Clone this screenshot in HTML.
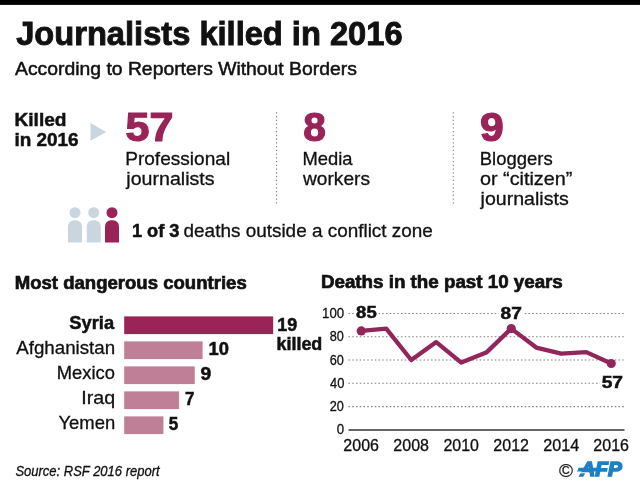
<!DOCTYPE html>
<html lang="en"><head><meta charset="utf-8"><title>Journalists killed in 2016</title>
<style>html,body{margin:0;padding:0;background:#fff}svg{display:block;will-change:transform}</style></head>
<body>
<svg width="640" height="492" viewBox="0 0 640 492" font-family='"Liberation Sans", sans-serif'>
<rect x="0" y="0" width="640" height="492" fill="#fff"/>
<rect x="0" y="0" width="640" height="4.9" fill="#000"/>
<polygon points="90.5,123 106.2,131.9 90.5,140.8" fill="#c9d6df"/>
<line x1="276.5" y1="112.3" x2="276.5" y2="205.5" stroke="#808080" stroke-width="1.1" stroke-dasharray="1.3 2.45"/>
<line x1="453.3" y1="112.3" x2="453.3" y2="205.5" stroke="#808080" stroke-width="1.1" stroke-dasharray="1.3 2.45"/>
<circle cx="75" cy="212.7" r="5.5" fill="#c9d6df"/><path d="M68,242.4 V226.2 a6,6 0 0 1 6,-6 h2 a6,6 0 0 1 6,6 V242.4 Z" fill="#c9d6df"/>
<circle cx="93.75" cy="212.7" r="5.5" fill="#c9d6df"/><path d="M86.75,242.4 V226.2 a6,6 0 0 1 6,-6 h2 a6,6 0 0 1 6,6 V242.4 Z" fill="#c9d6df"/>
<circle cx="112" cy="212.7" r="5.5" fill="#9a2358"/><path d="M105,242.4 V226.2 a6,6 0 0 1 6,-6 h2 a6,6 0 0 1 6,6 V242.4 Z" fill="#9a2358"/>
<rect x="124.2" y="316.4" width="148.96" height="17.7" fill="#9a2358"/>
<rect x="124.2" y="341.4" width="78.40" height="17.7" fill="#bf7f96"/>
<rect x="124.2" y="366.4" width="70.56" height="17.7" fill="#bf7f96"/>
<rect x="124.2" y="391.4" width="54.88" height="17.7" fill="#bf7f96"/>
<rect x="124.2" y="416.4" width="39.20" height="17.7" fill="#bf7f96"/>
<line x1="348.5" y1="406.61" x2="624.5" y2="406.61" stroke="#808080" stroke-width="1.1" stroke-dasharray="1.5 2.25"/>
<line x1="348.5" y1="383.32" x2="624.5" y2="383.32" stroke="#808080" stroke-width="1.1" stroke-dasharray="1.5 2.25"/>
<line x1="348.5" y1="360.03" x2="624.5" y2="360.03" stroke="#808080" stroke-width="1.1" stroke-dasharray="1.5 2.25"/>
<line x1="348.5" y1="336.74" x2="624.5" y2="336.74" stroke="#808080" stroke-width="1.1" stroke-dasharray="1.5 2.25"/>
<line x1="348.5" y1="313.45" x2="624.5" y2="313.45" stroke="#808080" stroke-width="1.1" stroke-dasharray="1.5 2.25"/>
<line x1="348.5" y1="430" x2="624.5" y2="430" stroke="#333" stroke-width="1.7"/>
<polyline points="361.25,330.92 386.25,328.59 411.25,360.03 436.25,342.10 461.25,362.59 486.25,352.58 511.25,328.59 536.25,347.57 561.25,353.63 586.25,352.11 611.25,363.52" fill="none" stroke="#92265a" stroke-width="4.3" stroke-linejoin="round" stroke-linecap="round"/>
<circle cx="361.25" cy="330.92" r="4.6" fill="#92265a"/>
<circle cx="511.25" cy="328.59" r="4.6" fill="#92265a"/>
<circle cx="611.25" cy="363.52" r="4.6" fill="#92265a"/>
<text x="16.23" y="45.00" font-size="32.6" font-weight="700" font-style="normal" fill="#111" textLength="386.33" lengthAdjust="spacingAndGlyphs" stroke="#111" stroke-width="0.9" stroke-linejoin="miter">Journalists killed in 2016</text>
<text x="15.06" y="75.00" font-size="18.7" font-weight="400" font-style="normal" fill="#111" textLength="341.78" lengthAdjust="spacingAndGlyphs" stroke="#111" stroke-width="0.5" stroke-linejoin="miter">According to Reporters Without Borders</text>
<text x="14.45" y="126.00" font-size="19.2" font-weight="700" font-style="normal" fill="#111" textLength="52.09" lengthAdjust="spacingAndGlyphs" stroke="#111" stroke-width="0.5" stroke-linejoin="miter">Killed</text>
<text x="14.38" y="146.25" font-size="19.2" font-weight="700" font-style="normal" fill="#111" textLength="64.16" lengthAdjust="spacingAndGlyphs" stroke="#111" stroke-width="0.5" stroke-linejoin="miter">in 2016</text>
<text x="125.60" y="141.30" font-size="40" font-weight="700" font-style="normal" fill="#9a2358" textLength="47.89" lengthAdjust="spacingAndGlyphs" stroke="#9a2358" stroke-width="1.2" stroke-linejoin="miter">57</text>
<text x="125.19" y="164.50" font-size="18.2" font-weight="400" font-style="normal" fill="#111" textLength="104.96" lengthAdjust="spacingAndGlyphs" stroke="#111" stroke-width="0.3" stroke-linejoin="miter">Professional</text>
<text x="126.31" y="184.50" font-size="18.2" font-weight="400" font-style="normal" fill="#111" textLength="88.25" lengthAdjust="spacingAndGlyphs" stroke="#111" stroke-width="0.3" stroke-linejoin="miter">journalists</text>
<text x="303.37" y="141.30" font-size="40" font-weight="700" font-style="normal" fill="#9a2358" textLength="22.62" lengthAdjust="spacingAndGlyphs" stroke="#9a2358" stroke-width="1.2" stroke-linejoin="miter">8</text>
<text x="302.50" y="164.50" font-size="18.2" font-weight="400" font-style="normal" fill="#111" textLength="49.99" lengthAdjust="spacingAndGlyphs" stroke="#111" stroke-width="0.3" stroke-linejoin="miter">Media</text>
<text x="303.07" y="184.50" font-size="18.2" font-weight="400" font-style="normal" fill="#111" textLength="66.88" lengthAdjust="spacingAndGlyphs" stroke="#111" stroke-width="0.3" stroke-linejoin="miter">workers</text>
<text x="479.96" y="141.30" font-size="40" font-weight="700" font-style="normal" fill="#9a2358" textLength="23.75" lengthAdjust="spacingAndGlyphs" stroke="#9a2358" stroke-width="1.2" stroke-linejoin="miter">9</text>
<text x="479.77" y="164.50" font-size="18.2" font-weight="400" font-style="normal" fill="#111" textLength="72.89" lengthAdjust="spacingAndGlyphs" stroke="#111" stroke-width="0.3" stroke-linejoin="miter">Bloggers</text>
<text x="479.93" y="184.50" font-size="18.2" font-weight="400" font-style="normal" fill="#111" textLength="92.51" lengthAdjust="spacingAndGlyphs" stroke="#111" stroke-width="0.3" stroke-linejoin="miter">or “citizen”</text>
<text x="480.63" y="204.50" font-size="18.2" font-weight="400" font-style="normal" fill="#111" textLength="88.08" lengthAdjust="spacingAndGlyphs" stroke="#111" stroke-width="0.3" stroke-linejoin="miter">journalists</text>
<text x="131.95" y="237.00" font-size="18.2" font-weight="700" font-style="normal" fill="#111" textLength="47.50" lengthAdjust="spacingAndGlyphs" stroke="#111" stroke-width="0.5" stroke-linejoin="miter">1 of 3</text>
<text x="183.57" y="237.00" font-size="18.2" font-weight="400" font-style="normal" fill="#111" textLength="249.33" lengthAdjust="spacingAndGlyphs" stroke="#111" stroke-width="0.3" stroke-linejoin="miter">deaths outside a conflict zone</text>
<text x="14.68" y="289.00" font-size="18.8" font-weight="700" font-style="normal" fill="#111" textLength="232.03" lengthAdjust="spacingAndGlyphs" stroke="#111" stroke-width="0.7" stroke-linejoin="miter">Most dangerous countries</text>
<text x="69.38" y="328.75" font-size="18.2" font-weight="700" font-style="normal" fill="#111" textLength="44.76" lengthAdjust="spacingAndGlyphs" stroke="#111" stroke-width="0.5" stroke-linejoin="miter">Syria</text>
<text x="16.23" y="353.75" font-size="18.2" font-weight="400" font-style="normal" fill="#111" textLength="98.88" lengthAdjust="spacingAndGlyphs" stroke="#111" stroke-width="0.3" stroke-linejoin="miter">Afghanistan</text>
<text x="56.83" y="378.75" font-size="18.2" font-weight="400" font-style="normal" fill="#111" textLength="58.11" lengthAdjust="spacingAndGlyphs" stroke="#111" stroke-width="0.3" stroke-linejoin="miter">Mexico</text>
<text x="81.24" y="403.75" font-size="18.2" font-weight="400" font-style="normal" fill="#111" textLength="33.92" lengthAdjust="spacingAndGlyphs" stroke="#111" stroke-width="0.3" stroke-linejoin="miter">Iraq</text>
<text x="58.43" y="428.75" font-size="18.2" font-weight="400" font-style="normal" fill="#111" textLength="56.76" lengthAdjust="spacingAndGlyphs" stroke="#111" stroke-width="0.3" stroke-linejoin="miter">Yemen</text>
<text x="277.23" y="330.50" font-size="17.5" font-weight="700" font-style="normal" fill="#111" textLength="19.93" lengthAdjust="spacingAndGlyphs" stroke="#111" stroke-width="0.5" stroke-linejoin="miter">19</text>
<text x="276.49" y="349.50" font-size="17.5" font-weight="700" font-style="normal" fill="#111" textLength="45.85" lengthAdjust="spacingAndGlyphs" stroke="#111" stroke-width="0.5" stroke-linejoin="miter">killed</text>
<text x="208.60" y="354.50" font-size="17.5" font-weight="700" font-style="normal" fill="#111" textLength="20.43" lengthAdjust="spacingAndGlyphs" stroke="#111" stroke-width="0.5" stroke-linejoin="miter">10</text>
<text x="200.46" y="379.50" font-size="17.5" font-weight="700" font-style="normal" fill="#111" textLength="10.72" lengthAdjust="spacingAndGlyphs" stroke="#111" stroke-width="0.5" stroke-linejoin="miter">9</text>
<text x="184.93" y="404.50" font-size="17.5" font-weight="700" font-style="normal" fill="#111" textLength="9.40" lengthAdjust="spacingAndGlyphs" stroke="#111" stroke-width="0.5" stroke-linejoin="miter">7</text>
<text x="168.81" y="429.50" font-size="17.5" font-weight="700" font-style="normal" fill="#111" textLength="9.43" lengthAdjust="spacingAndGlyphs" stroke="#111" stroke-width="0.5" stroke-linejoin="miter">5</text>
<text x="320.98" y="288.00" font-size="18.8" font-weight="700" font-style="normal" fill="#111" textLength="241.84" lengthAdjust="spacingAndGlyphs" stroke="#111" stroke-width="0.7" stroke-linejoin="miter">Deaths in the past 10 years</text>
<text x="322.05" y="318.00" font-size="14.3" font-weight="400" font-style="normal" fill="#111" textLength="22.10" lengthAdjust="spacingAndGlyphs" stroke="#111" stroke-width="0.3" stroke-linejoin="miter">100</text>
<text x="329.69" y="341.25" font-size="14.3" font-weight="400" font-style="normal" fill="#111" textLength="14.10" lengthAdjust="spacingAndGlyphs" stroke="#111" stroke-width="0.3" stroke-linejoin="miter">80</text>
<text x="329.67" y="364.50" font-size="14.3" font-weight="400" font-style="normal" fill="#111" textLength="14.12" lengthAdjust="spacingAndGlyphs" stroke="#111" stroke-width="0.3" stroke-linejoin="miter">60</text>
<text x="330.00" y="387.75" font-size="14.3" font-weight="400" font-style="normal" fill="#111" textLength="14.36" lengthAdjust="spacingAndGlyphs" stroke="#111" stroke-width="0.3" stroke-linejoin="miter">40</text>
<text x="329.64" y="411.00" font-size="14.3" font-weight="400" font-style="normal" fill="#111" textLength="14.15" lengthAdjust="spacingAndGlyphs" stroke="#111" stroke-width="0.3" stroke-linejoin="miter">20</text>
<text x="336.83" y="434.00" font-size="14.3" font-weight="400" font-style="normal" fill="#111" textLength="7.36" lengthAdjust="spacingAndGlyphs" stroke="#111" stroke-width="0.3" stroke-linejoin="miter">0</text>
<rect x="354.50" y="305.00" width="24.25" height="14" fill="#fff"/>
<text x="356.11" y="318.00" font-size="16.9" font-weight="700" font-style="normal" fill="#111" textLength="20.57" lengthAdjust="spacingAndGlyphs" stroke="#111" stroke-width="0.5" stroke-linejoin="miter">85</text>
<rect x="498.75" y="305.75" width="25.00" height="14" fill="#fff"/>
<text x="500.55" y="318.75" font-size="16.9" font-weight="700" font-style="normal" fill="#111" textLength="21.29" lengthAdjust="spacingAndGlyphs" stroke="#111" stroke-width="0.5" stroke-linejoin="miter">87</text>
<rect x="600.00" y="374.75" width="25.00" height="14" fill="#fff"/>
<text x="601.66" y="387.75" font-size="16.9" font-weight="700" font-style="normal" fill="#111" textLength="21.40" lengthAdjust="spacingAndGlyphs" stroke="#111" stroke-width="0.5" stroke-linejoin="miter">57</text>
<text x="343.37" y="451.00" font-size="15.7" font-weight="400" font-style="normal" fill="#111" textLength="35.56" lengthAdjust="spacingAndGlyphs" stroke="#111" stroke-width="0.3" stroke-linejoin="miter">2006</text>
<text x="393.37" y="451.00" font-size="15.7" font-weight="400" font-style="normal" fill="#111" textLength="35.63" lengthAdjust="spacingAndGlyphs" stroke="#111" stroke-width="0.3" stroke-linejoin="miter">2008</text>
<text x="443.41" y="451.00" font-size="15.7" font-weight="400" font-style="normal" fill="#111" textLength="35.49" lengthAdjust="spacingAndGlyphs" stroke="#111" stroke-width="0.3" stroke-linejoin="miter">2010</text>
<text x="493.37" y="451.00" font-size="15.7" font-weight="400" font-style="normal" fill="#111" textLength="35.69" lengthAdjust="spacingAndGlyphs" stroke="#111" stroke-width="0.3" stroke-linejoin="miter">2012</text>
<text x="543.39" y="451.00" font-size="15.7" font-weight="400" font-style="normal" fill="#111" textLength="36.00" lengthAdjust="spacingAndGlyphs" stroke="#111" stroke-width="0.3" stroke-linejoin="miter">2014</text>
<text x="593.37" y="451.00" font-size="15.7" font-weight="400" font-style="normal" fill="#111" textLength="35.56" lengthAdjust="spacingAndGlyphs" stroke="#111" stroke-width="0.3" stroke-linejoin="miter">2016</text>
<text x="15.38" y="476.30" font-size="14.3" font-weight="400" font-style="italic" fill="#111" textLength="144.25" lengthAdjust="spacingAndGlyphs" stroke="#111" stroke-width="0.3" stroke-linejoin="miter">Source: RSF 2016 report</text>
<text x="566.1" y="477.2" font-size="19" text-anchor="middle" fill="#222" stroke="#222" stroke-width="0.25">©</text>
<polygon points="578.6,467.8 597,467.8 597,471.5 577.2,471.5" fill="#1f7fc4"/>
<text x="580.3" y="475.5" font-size="19.6" font-weight="700" font-style="italic" fill="#1f7fc4" textLength="41.5" lengthAdjust="spacingAndGlyphs" stroke="#1f7fc4" stroke-width="1.5" stroke-linejoin="miter">AFP</text>
<polygon points="576,472.3 589.5,472.3 589.1,473.3 575.6,473.3" fill="#fff"/>
</svg>
</body></html>
